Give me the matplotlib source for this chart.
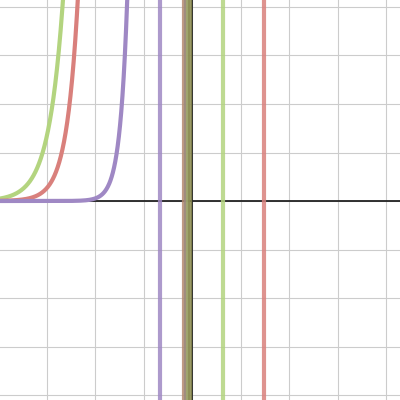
import numpy as np
import matplotlib
matplotlib.use("Agg")
import matplotlib.pyplot as plt

u = 48.5
xmin, xmax = -192/u, 208/u
ymin, ymax = -199/u, 201/u

curve_names = ["green", "red", "purple"]
curve_colors = ["#b3d47f", "#d9807c", "#9f88c4"]
curve_a = [0.05*np.exp(3.4*3.96), 0.06*np.exp(4.3*3.34), 0.1*np.exp(6.6*1.9)]
curve_b = [3.4, 4.3, 6.6]

vline_x = [-0.66, -0.17, -0.13, -0.09, -0.05, 0.64, 1.48]
vline_colors = ["#9f88c4", "#b58a70", "#9a8a80", "#a0a86a", "#8a8a50", "#b3d47f", "#d9807c"]

fig = plt.figure(figsize=(4, 4), dpi=100)
ax = fig.add_axes([0, 0, 1, 1])
ax.set_xlim(xmin, xmax)
ax.set_ylim(ymin, ymax)
for g in range(-4, 5):
    ax.axvline(g, color="#cccccc", lw=0.8, zorder=0)
    ax.axhline(g, color="#cccccc", lw=0.8, zorder=0)
ax.axvline(0, color="#222222", lw=1.3, zorder=1)
ax.axhline(0, color="#222222", lw=1.3, zorder=1)
x = np.linspace(xmin, xmax, 2000)
for c, a, b in zip(curve_colors, curve_a, curve_b):
    ax.plot(x, a*np.exp(b*x), color=c, lw=3, zorder=3)
for vx, c in zip(vline_x, vline_colors):
    ax.axvline(vx, color=c, lw=3, alpha=0.85, zorder=3)
ax.set_xticks([]); ax.set_yticks([])
for s in ax.spines.values():
    s.set_visible(False)
fig.savefig("out.png", dpi=100)
